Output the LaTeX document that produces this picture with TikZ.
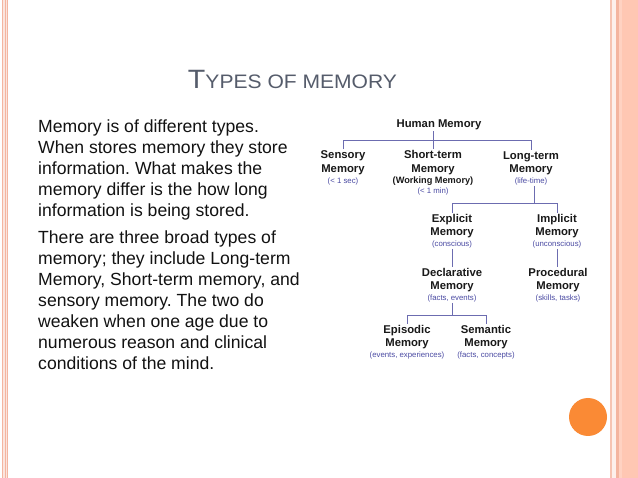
\documentclass[tikz,border=0pt]{standalone}
\usepackage{fontspec}
\setmainfont{Liberation Sans}
\usetikzlibrary{positioning,calc}
\definecolor{linkBlue}{HTML}{6C6CB0}
\definecolor{subBlue}{HTML}{4B4BA3}
\definecolor{titleGray}{HTML}{555C6B}
\definecolor{stripePink}{HTML}{F4B5A0}
\definecolor{stripeSalmon}{HTML}{FFC7B3}
\definecolor{dotOrange}{HTML}{FA8A35}
\frenchspacing

\begin{document}
\begin{tikzpicture}[
  x=1pt, y=-1pt,
  memNode/.style={align=center, inner sep=1pt, text=black!90,
                  font=\fontsize{11.3}{13.5}\selectfont\bfseries},
  subLbl/.style={inner sep=1pt, text=subBlue,
                 font=\fontsize{7.8}{9}\selectfont},
  link/.style={draw=linkBlue, line width=0.9pt},
  bodyText/.style={anchor=north west, align=left, inner sep=0pt,
                   text=black!93, font=\fontsize{17.6}{21}\selectfont}
]
  % Slide background and side stripes
  \useasboundingbox[fill=white] (0,0) rectangle (638,478);
  \fill[stripePink!35] (2,0) rectangle (8,478);
  \foreach \sx in {2.8,5,7.2}
    \draw[stripePink, line width=0.8pt] (\sx,0) -- (\sx,478);
  \fill[stripePink!80] (609.5,0) rectangle (612,478);
  \fill[stripePink!20] (612,0) rectangle (615.5,478);
  \fill[stripePink] (615.5,0) rectangle (618.5,478);
  \fill[stripeSalmon!80] (618.5,0) rectangle (622,478);
  \fill[stripeSalmon] (622,0) rectangle (638,478);
  \fill[dotOrange] (588,417) circle[radius=19];

  % Title
  \node[anchor=base, inner sep=0pt, text=titleGray] (slideTitle) at (292.5,89)
    {\scalebox{1.08}[1]{\fontsize{26.5}{30}\selectfont T\fontsize{19.5}{22}\selectfont YPES OF MEMORY}};

  % Body text
  \node[bodyText] (introText) at (38,120)
    {Memory is of different types.\\
     When stores memory they store\\
     information. What makes the\\
     memory differ is the how long\\
     information is being stored.};
  \node[bodyText] (typesText) at (38,231)
    {There are three broad types of\\
     memory; they include Long-term\\
     Memory, Short-term memory, and\\
     sensory memory. The two do\\
     weaken when one age due to\\
     numerous reason and clinical\\
     conditions of the mind.};

  % Memory chart
  \node[memNode] (human) at (439,125) {Human Memory};

  \node[memNode] (sensory) at (343,162.5) {Sensory\\Memory};
  \node[subLbl] (sensorySub) at (343,181) {(< 1 sec)};
  \node[memNode] (shortTerm) at (433,162.5) {Short-term\\Memory};
  \node[memNode, font=\fontsize{9.2}{10}\selectfont\bfseries] (working)
    at (433,181) {(Working Memory)};
  \node[subLbl] (shortTermSub) at (433,191) {(< 1 min)};
  \node[memNode] (longTerm) at (531,163.5) {Long-term\\Memory};
  \node[subLbl] (longTermSub) at (531,181) {(life-time)};

  \node[memNode] (explicit) at (452,226) {Explicit\\Memory};
  \node[subLbl] (explicitSub) at (452,244) {(conscious)};
  \node[memNode] (implicit) at (557,226) {Implicit\\Memory};
  \node[subLbl] (implicitSub) at (557,244) {(unconscious)};

  \node[memNode] (declarative) at (452,280) {Declarative\\Memory};
  \node[subLbl] (declarativeSub) at (452,298) {(facts, events)};
  \node[memNode] (procedural) at (558,280) {Procedural\\Memory};
  \node[subLbl] (proceduralSub) at (558,298) {(skills, tasks)};

  \node[memNode] (episodic) at (407,337) {Episodic\\Memory};
  \node[subLbl] (episodicSub) at (407,355) {(events, experiences)};
  \node[memNode] (semantic) at (486,337) {Semantic\\Memory};
  \node[subLbl] (semanticSub) at (486,355) {(facts, concepts)};

  % Connectors
  \draw[link] (human.south -| shortTerm) -- (shortTerm.north);
  \draw[link] (sensory.north) -- ++(0,-9) -| (longTerm.north);
  \coordinate (explicitBar) at ($(explicit.north)+(0,-9)$);
  \draw[link] (explicit.north) -- (explicitBar) -| (implicit.north);
  \draw[link] ([xshift=3pt]longTermSub.south) -- ([xshift=3pt]longTermSub.south |- explicitBar);
  \draw[link] (explicitSub.south) -- (explicitSub.south |- declarative.north);
  \draw[link] (implicitSub.south) -- (implicitSub.south |- procedural.north);
  \coordinate (episodicBar) at ($(episodic.north)+(0,-8)$);
  \draw[link] (episodic.north) -- (episodicBar) -| (semantic.north);
  \draw[link] (declarativeSub.south) -- (declarativeSub.south |- episodicBar);
\end{tikzpicture}
\end{document}
